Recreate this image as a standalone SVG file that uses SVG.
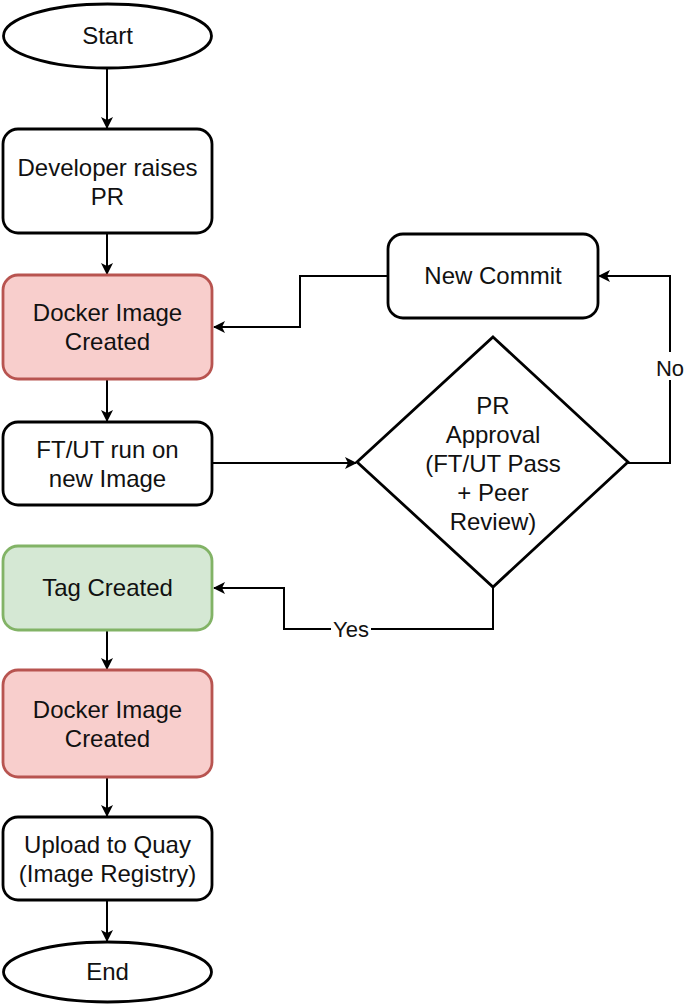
<svg xmlns="http://www.w3.org/2000/svg" width="687" height="1004" viewBox="0 0 687 1004">
<style>
.s{stroke:#000;stroke-width:2.8;fill:#fff}
.r{fill:#f8cecc;stroke:#b85450;stroke-width:2.8}
.g{fill:#d5e8d4;stroke:#82b366;stroke-width:2.8}
.c{fill:none;stroke:#000;stroke-width:2;marker-end:url(#a)}
text{font-family:"Liberation Sans",Arial,sans-serif;font-size:24px;fill:#111;text-anchor:middle}
.l{font-size:22px}
</style>
<defs>
<marker id="a" viewBox="0 0 12 12" refX="11" refY="6" markerWidth="12" markerHeight="12" markerUnits="userSpaceOnUse" orient="auto">
<path d="M0,0 L12,6 L0,12 L3,6 Z" fill="#000"/>
</marker>
</defs>
<rect width="687" height="1004" fill="#fff"/>
<g id="connectors">
<path class="c" d="M107,68 V128"/>
<path class="c" d="M107,233 V274"/>
<path class="c" d="M107,379 V421"/>
<path class="c" d="M107,630 V669"/>
<path class="c" d="M107,777 V816"/>
<path class="c" d="M107,900 V941"/>
<path class="c" d="M213,463 H356"/>
<path class="c" d="M388,276 H300 V327 H214"/>
<path class="c" d="M628,463 H670 V276 H599"/>
<path class="c" d="M493,587 V629 H284 V588 H214"/>
<rect x="655" y="352" width="30" height="28" fill="#fff"/>
<text class="l" x="670" y="376">No</text>
<rect x="331" y="619" width="40" height="22" fill="#fff"/>
<text class="l" x="351" y="637">Yes</text>
</g>
<g id="start"><ellipse class="s" cx="107.5" cy="36" rx="104" ry="32"/><text x="107.5" y="44">Start</text></g>
<g id="dev"><rect class="s" x="3" y="129" width="209" height="104" rx="15"/><text x="107.5" y="176">Developer raises</text><text x="107.5" y="205">PR</text></g>
<g id="docker1"><rect class="r" x="3" y="275" width="209" height="104" rx="15"/><text x="107.5" y="321">Docker Image</text><text x="107.5" y="350">Created</text></g>
<g id="ftut"><rect class="s" x="3" y="422" width="209" height="83" rx="15"/><text x="107.5" y="458">FT/UT run on</text><text x="107.5" y="487">new Image</text></g>
<g id="newcommit"><rect class="s" x="388" y="234" width="210" height="84" rx="15"/><text x="493" y="284">New Commit</text></g>
<g id="approval"><path class="s" d="M493,337 L628,462 L493,587 L357,462 Z"/>
<text x="493" y="414">PR</text><text x="493" y="443">Approval</text><text x="493" y="472">(FT/UT Pass</text><text x="493" y="501">+ Peer</text><text x="493" y="530">Review)</text></g>
<g id="tag"><rect class="g" x="3" y="546" width="209" height="84" rx="15"/><text x="107.5" y="596">Tag Created</text></g>
<g id="docker2"><rect class="r" x="3" y="670" width="209" height="107" rx="15"/><text x="107.5" y="718">Docker Image</text><text x="107.5" y="747">Created</text></g>
<g id="upload"><rect class="s" x="3" y="817" width="209" height="83" rx="15"/><text x="107.5" y="853">Upload to Quay</text><text x="107.5" y="882">(Image Registry)</text></g>
<g id="end"><ellipse class="s" cx="107.5" cy="972" rx="104" ry="30"/><text x="107.5" y="980">End</text></g>
</svg>
